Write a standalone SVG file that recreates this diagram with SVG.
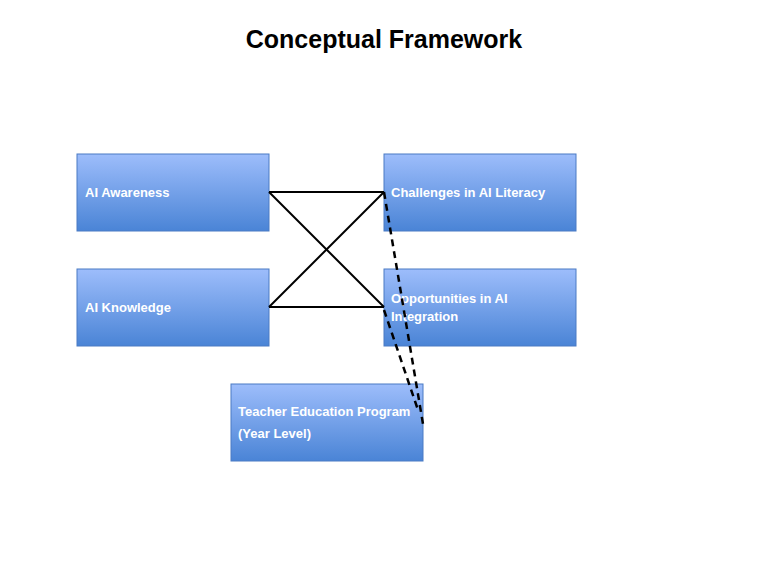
<svg xmlns="http://www.w3.org/2000/svg" width="768" height="576" viewBox="0 0 768 576">
<defs>
<linearGradient id="g" x1="0" y1="0" x2="0" y2="1"><stop offset="0" stop-color="#9dbdfb"/><stop offset="1" stop-color="#4a84d6"/></linearGradient>
<style>
.b{fill:url(#g);stroke:#4a7bc4;stroke-width:1}
.t{font-family:"Liberation Sans",Arial,sans-serif;font-size:13px;font-weight:bold;fill:#fff}
.c{stroke:#000;stroke-width:2;fill:none}
.d{stroke:#000;stroke-width:2.5;fill:none;stroke-dasharray:7,5}
</style>
</defs>
<rect width="768" height="576" fill="#fff"/>
<text x="384" y="48" text-anchor="middle" font-family="Liberation Sans,Arial,sans-serif" font-size="25" font-weight="bold">Conceptual Framework</text>
<g id="n1"><rect class="b" x="77" y="154" width="192" height="77"/><text class="t" x="85" y="197">AI Awareness</text></g>
<g id="n2"><rect class="b" x="77" y="269" width="192" height="77"/><text class="t" x="85" y="312">AI Knowledge</text></g>
<g id="n3"><rect class="b" x="384" y="154" width="192" height="77"/><text class="t" x="391" y="197">Challenges in AI Literacy</text></g>
<g id="n4"><rect class="b" x="384" y="269" width="192" height="77"/><text class="t" x="391" y="303">Opportunities in AI</text><text class="t" x="391" y="321">Integration</text></g>
<g id="n5"><rect class="b" x="231" y="384" width="192" height="77"/><text class="t" x="238" y="416">Teacher Education Program</text><text class="t" x="238" y="438" font-weight="normal" font-size="16">(Year Level)</text></g>
<g id="connectors">
<line class="c" x1="269" y1="192" x2="384" y2="192"/>
<line class="c" x1="269" y1="307" x2="384" y2="307"/>
<line class="c" x1="269" y1="192" x2="384" y2="307"/>
<line class="c" x1="269" y1="307" x2="384" y2="192"/>
<line class="d" x1="384" y1="192" x2="423" y2="424"/>
<line class="d" x1="384" y1="310" x2="418" y2="410"/>
</g>
</svg>
